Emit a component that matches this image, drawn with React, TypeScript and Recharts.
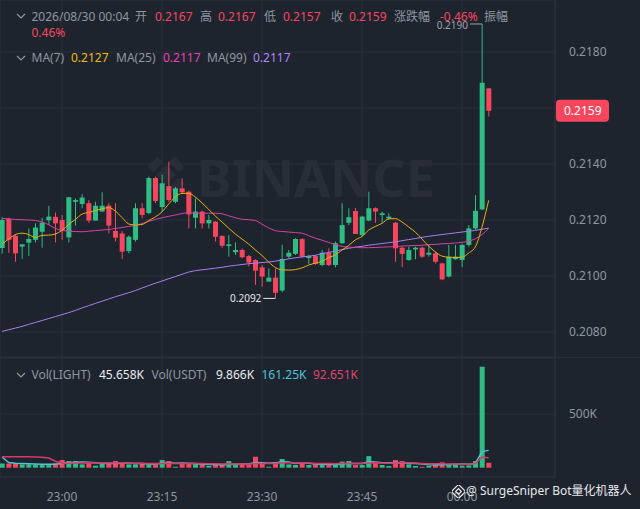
import React from 'react';
import { ComposedChart, Bar, Line, XAxis, YAxis, CartesianGrid, ReferenceLine, ReferenceDot, Cell } from 'recharts';

// 1m candles, 22:51 -> 00:04
const TICK_IDX = [9, 24, 39, 54, 69];
const TICK_LABELS = ['23:00', '23:15', '23:30', '23:45', '00:00'];
const PRICE_TICKS = [0.208, 0.21, 0.212, 0.214, 0.216, 0.218];

const OPEN = [
  0.2110, 0.21204, 0.21143, 0.21105, 0.21119, 0.21129, 0.21158, 0.21199, 0.21211, 0.2120,
  0.21138, 0.21265, 0.21257, 0.2126, 0.21198, 0.2123, 0.21251, 0.21161, 0.21152, 0.21089,
  0.21129, 0.21242, 0.21225, 0.2135, 0.21246, 0.21321, 0.21265, 0.21313, 0.21301, 0.21208,
  0.2123, 0.21188, 0.21194, 0.21143, 0.21107, 0.21085, 0.21093, 0.21071, 0.21057, 0.21031,
  0.2098, 0.20994, 0.20948, 0.21069, 0.21079, 0.21132, 0.21064, 0.21071, 0.21039, 0.21083,
  0.21039, 0.21117, 0.2119, 0.21232, 0.21146, 0.21198, 0.21242, 0.21218, 0.21205, 0.2119,
  0.21101, 0.21057, 0.21095, 0.21101, 0.21076, 0.21081, 0.21045, 0.20998, 0.2106, 0.21057,
  0.21111, 0.2117, 0.21238, 0.2167,
];
const HIGH = [
  0.2121, 0.21208, 0.2115, 0.21113, 0.2117, 0.21188, 0.21208, 0.2125, 0.21227, 0.21218,
  0.21283, 0.21277, 0.21292, 0.21271, 0.21265, 0.21299, 0.2126, 0.2126, 0.2116, 0.21145,
  0.2126, 0.2126, 0.21355, 0.21355, 0.21361, 0.21408, 0.21318, 0.21349, 0.21305, 0.21277,
  0.21233, 0.21218, 0.21196, 0.21145, 0.21146, 0.2112, 0.21098, 0.21075, 0.2106, 0.21039,
  0.21027, 0.21027, 0.21111, 0.21093, 0.21135, 0.21135, 0.21075, 0.21075, 0.21093, 0.21099,
  0.21123, 0.2126, 0.21242, 0.21243, 0.21215, 0.21301, 0.21245, 0.2123, 0.21224, 0.21193,
  0.21105, 0.21105, 0.21105, 0.21105, 0.21111, 0.21087, 0.21048, 0.21111, 0.21111, 0.21115,
  0.21182, 0.21289, 0.2190, 0.2167,
];
const LOW = [
  0.2108, 0.21082, 0.21051, 0.21061, 0.21071, 0.2112, 0.21101, 0.21182, 0.2112, 0.21129,
  0.2112, 0.2118, 0.21242, 0.2119, 0.21198, 0.2123, 0.21152, 0.21123, 0.21061, 0.21081,
  0.21123, 0.21206, 0.2122, 0.2126, 0.2123, 0.21265, 0.2126, 0.21295, 0.2117, 0.2117,
  0.2117, 0.2117, 0.21123, 0.21101, 0.21069, 0.21075, 0.21063, 0.21034, 0.20968, 0.20962,
  0.2098, 0.2092, 0.20942, 0.21063, 0.21075, 0.21065, 0.21043, 0.2104, 0.21035, 0.21035,
  0.21031, 0.21115, 0.21182, 0.2115, 0.21143, 0.21195, 0.2119, 0.2119, 0.21202, 0.21051,
  0.21031, 0.21055, 0.2106, 0.21065, 0.21069, 0.21045, 0.20985, 0.20995, 0.21058, 0.21031,
  0.21105, 0.21165, 0.21235, 0.2157,
];
const CLOSE = [
  0.2120, 0.21129, 0.21081, 0.21113, 0.21132, 0.21173, 0.2119, 0.21212, 0.21188, 0.21161,
  0.21281, 0.21271, 0.2128, 0.21198, 0.21251, 0.21251, 0.2118, 0.21137, 0.21087, 0.2114,
  0.21242, 0.21218, 0.2135, 0.21268, 0.21331, 0.21271, 0.21313, 0.21299, 0.2122, 0.2123,
  0.21188, 0.2120, 0.2114, 0.21108, 0.21113, 0.21093, 0.21067, 0.21048, 0.21019, 0.20998,
  0.20994, 0.2094, 0.21061, 0.21083, 0.21132, 0.21069, 0.21071, 0.21043, 0.21083, 0.21039,
  0.21117, 0.21182, 0.2121, 0.2115, 0.21212, 0.21242, 0.2123, 0.21224, 0.21212, 0.21099,
  0.21079, 0.21093, 0.21101, 0.21069, 0.21083, 0.21051, 0.20988, 0.21069, 0.21069, 0.21111,
  0.2117, 0.21233, 0.2169, 0.2159,
];
const MA7 = [
  0.21114, 0.21132, 0.21148, 0.21153, 0.21148, 0.21137, 0.21145, 0.21146, 0.2115, 0.21163,
  0.21184, 0.21202, 0.21221, 0.21227, 0.21234, 0.2124, 0.21244, 0.21232, 0.21209, 0.21186,
  0.21182, 0.21184, 0.21198, 0.21211, 0.21229, 0.21257, 0.21282, 0.21295, 0.21295, 0.21282,
  0.21261, 0.21238, 0.21214, 0.21193, 0.21171, 0.2115, 0.21132, 0.21114, 0.21093, 0.21073,
  0.2105, 0.2103, 0.21022, 0.21021, 0.21023, 0.21029, 0.21039, 0.21046, 0.21052, 0.21066,
  0.21075, 0.21093, 0.21109, 0.21129, 0.21141, 0.21164, 0.21177, 0.21188, 0.21204, 0.21205,
  0.21193, 0.21175, 0.21157, 0.21132, 0.21107, 0.21086, 0.21071, 0.21067, 0.21066, 0.21067,
  0.21082, 0.21104, 0.21175, 0.2127,
];
const MA25 = [
  0.21206, 0.21204, 0.21202, 0.21201, 0.2120, 0.21198, 0.21193, 0.21183, 0.2117, 0.21163,
  0.2116, 0.21159, 0.21158, 0.2116, 0.21162, 0.21164, 0.21166, 0.2117, 0.21173, 0.21177,
  0.21181, 0.21187, 0.21195, 0.21202, 0.21208, 0.21213, 0.21218, 0.21223, 0.21226, 0.21225,
  0.21224, 0.21224, 0.21224, 0.21222, 0.21215, 0.21208, 0.21203, 0.21201, 0.21198, 0.21185,
  0.21172, 0.21162, 0.21159, 0.21157, 0.21155, 0.21153, 0.21144, 0.21135, 0.21128, 0.2112,
  0.21112, 0.21106, 0.21103, 0.21102, 0.21101, 0.21101, 0.21102, 0.21103, 0.21104, 0.21105,
  0.21107, 0.21108, 0.21109, 0.2111, 0.21112, 0.21113, 0.21115, 0.21116, 0.21118, 0.2112,
  0.21125, 0.21133, 0.21148, 0.2117,
];
const MA99 = [
  0.20802, 0.20808, 0.20814, 0.2082, 0.20827, 0.20834, 0.20841, 0.20848, 0.20855, 0.20862,
  0.20869, 0.20877, 0.20886, 0.20894, 0.20902, 0.2091, 0.20918, 0.20926, 0.20933, 0.2094,
  0.20948, 0.20957, 0.20966, 0.20974, 0.20982, 0.2099, 0.20998, 0.21006, 0.21014, 0.21019,
  0.21022, 0.21025, 0.21028, 0.21031, 0.21035, 0.21038, 0.21041, 0.21044, 0.21046, 0.21048,
  0.2105, 0.21053, 0.21057, 0.21061, 0.21065, 0.21068, 0.21071, 0.21074, 0.2108, 0.21084,
  0.21089, 0.21094, 0.21099, 0.21103, 0.21106, 0.2111, 0.21113, 0.21116, 0.21119, 0.21122,
  0.21126, 0.2113, 0.21134, 0.21138, 0.21142, 0.21145, 0.21148, 0.21151, 0.21154, 0.21157,
  0.2116, 0.21163, 0.21167, 0.21171,
];

// volume in thousands of LIGHT
const VOLUME = [
  40, 40, 40, 31, 31, 31, 25, 25, 40, 71,
  62, 62, 31, 50, 19, 40, 40, 62, 40, 31,
  31, 40, 31, 31, 71, 62, 9, 40, 40, 40,
  25, 16, 25, 25, 62, 25, 31, 25, 102, 40,
  9, 50, 81, 31, 25, 50, 25, 40, 25, 25,
  25, 56, 62, 25, 25, 108, 50, 25, 16, 71,
  62, 31, 16, 9, 16, 40, 50, 31, 25, 19,
  22, 62, 940, 45.658,
];
const VOL_MA5 = [
  100, 48, 42, 40, 37, 35, 33, 31, 33, 40,
  45, 50, 52, 50, 45, 42, 38, 40, 42, 43,
  40, 38, 35, 34, 42, 47, 42, 43, 42, 38,
  33, 30, 29, 26, 33, 31, 34, 34, 49, 45,
  41, 45, 56, 52, 39, 47, 42, 34, 33, 33,
  28, 34, 39, 39, 39, 55, 54, 47, 45, 48,
  45, 41, 39, 34, 27, 24, 28, 29, 32, 34,
  32, 40, 150, 161.25,
];
const VOL_MA10 = [
  103, 103, 102, 102, 101, 100, 98, 90, 60, 42,
  41, 43, 44, 45, 44, 44, 43, 44, 43, 42,
  41, 41, 40, 38, 40, 42, 40, 40, 40, 40,
  38, 36, 36, 34, 36, 35, 34, 32, 38, 40,
  38, 40, 45, 45, 44, 46, 44, 40, 38, 38,
  37, 38, 40, 40, 38, 44, 45, 44, 42, 44,
  46, 46, 44, 40, 37, 36, 36, 35, 34, 33,
  33, 38, 97, 92.651,
];

const BG = '#1E242E';
const GRID = '#2A303A';
const UP = '#2EBD85';
const DOWN = '#F6465D';
const LABEL = '#8E96A1';
const WATERMARK = '#282E38';
const FONT = '"Noto Sans", "Noto Sans CJK SC", sans-serif';

const data = OPEN.map((o, i) => ({
  idx: i,
  open: o,
  high: HIGH[i],
  low: LOW[i],
  close: CLOSE[i],
  range: [LOW[i], HIGH[i]],
  ma7: MA7[i],
  ma25: MA25[i],
  ma99: MA99[i],
  vol: VOLUME[i],
  vma5: VOL_MA5[i],
  vma10: VOL_MA10[i],
}));

const X_DOMAIN: [number, number] = [-0.3, 82.95];

const Candle = (props: any) => {
  const { x, y, width, height, payload } = props;
  const { open, close, high, low } = payload;
  const color = close >= open ? UP : DOWN;
  const top = Math.min(y, y + height);
  const h = Math.abs(height);
  const toY = (v: number) => (high === low ? top : top + ((high - v) / (high - low)) * h);
  const bTop = toY(Math.max(open, close));
  const bBot = toY(Math.min(open, close));
  const cx = x + width / 2;
  return (
    <g>
      <line x1={cx} x2={cx} y1={top} y2={top + h} stroke={color} strokeWidth={1} />
      <rect x={x} y={bTop} width={width} height={Math.max(1, bBot - bTop)} fill={color} />
    </g>
  );
};

const PriceTag = (props: any) => {
  const vb = props.viewBox || {};
  const x = vb.x + vb.width + 1;
  const y = vb.y;
  return (
    <g>
      <rect x={x} y={y - 11} width={53} height={22} rx={4} fill={DOWN} />
      <text x={x + 8} y={y} dominantBaseline="central" fill="#FFFFFF" fontSize={12}>
        {props.text}
      </text>
    </g>
  );
};

const ExtremeLabel = (props: any) => {
  const vb = props.viewBox || {};
  const cx = vb.x;
  const cy = vb.y;
  return (
    <g>
      <line x1={cx - 12} x2={cx} y1={cy} y2={cy} stroke={props.color} strokeWidth={1} />
      <text x={cx - 14} y={cy + (props.dy || 0)} textAnchor="end" dominantBaseline="central" fill={props.color} fontSize={10}>
        {props.text}
      </text>
    </g>
  );
};

const Chevron = ({ top }: { top: number }) => (
  <svg style={{ position: 'absolute', left: 16, top }} width={10} height={6}>
    <polyline points="1,1 5,5 9,1" fill="none" stroke={LABEL} strokeWidth={1.2} />
  </svg>
);

const T = ({ x, y, color, children, size = 12 }: any) => (
  <div
    style={{
      position: 'absolute', left: x, top: y - 9, lineHeight: '18px', fontSize: size,
      color, whiteSpace: 'nowrap',
    }}
  >
    {children}
  </div>
);

const App = () => {
  return (
    <div style={{ position: 'relative', width: 640, height: 509, background: BG, overflow: 'hidden', fontFamily: FONT }}>
      <style>{'body{margin:0;background:' + BG + '}'}</style>

      {/* watermark */}
      <svg style={{ position: 'absolute', left: 0, top: 0 }} width={640} height={360}>
        <g fill={WATERMARK} transform="translate(166 175) rotate(45)">
          <rect x={-7} y={-7} width={14} height={14} />
          <rect x={-7} y={-19} width={14} height={8} />
          <rect x={-7} y={11} width={14} height={8} />
          <rect x={-19} y={-7} width={8} height={14} />
          <rect x={11} y={-7} width={8} height={14} />
        </g>
        <text x={197} y={197} fontSize={52} fontWeight={700} fill={WATERMARK} fontFamily={FONT}>
          BINANCE
        </text>
      </svg>

      {/* price pane */}
      <div style={{ position: 'absolute', left: 0, top: 0 }}>
        <ComposedChart width={640} height={357} data={data} margin={{ top: 0, right: 0, bottom: 0, left: 0 }}>
          <CartesianGrid stroke={GRID} />
          <XAxis dataKey="idx" type="number" domain={X_DOMAIN} ticks={TICK_IDX} allowDataOverflow hide />
          <YAxis
            orientation="right"
            width={85}
            domain={[0.207107, 0.219857]}
            ticks={PRICE_TICKS}
            allowDataOverflow
            axisLine={{ stroke: GRID }}
            tickLine={false}
            tickMargin={8}
            tick={{ fill: LABEL, fontSize: 12 }}
            tickFormatter={(v: number) => (Math.abs(v - 0.216) < 1e-9 ? '' : v.toFixed(4))}
          />
          <Line dataKey="ma99" stroke="#A77DF0" strokeWidth={1} dot={false} activeDot={false} isAnimationActive={false} type="monotone" />
          <Line dataKey="ma25" stroke="#D640A8" strokeWidth={1} dot={false} activeDot={false} isAnimationActive={false} type="monotone" />
          <Line dataKey="ma7" stroke="#E8B00C" strokeWidth={1} dot={false} activeDot={false} isAnimationActive={false} type="monotone" />
          <Bar dataKey="range" barSize={5} shape={(p: any) => <Candle {...p} />} activeBar={false} isAnimationActive={false} />
          <ReferenceDot x={72} y={0.219} r={0} fill="none" stroke="none" label={<ExtremeLabel text="0.2190" color="#9AA1AB" dy={1.5} />} />
          <ReferenceDot x={41} y={0.2092} r={0} fill="none" stroke="none" label={<ExtremeLabel text="0.2092" color="#E6E8EB" />} />
          <ReferenceLine y={0.2159} stroke="none" label={<PriceTag text="0.2159" />} />
        </ComposedChart>
      </div>

      <div style={{ position: 'absolute', left: 0, top: 357, width: 640, height: 1, background: GRID }} />

      {/* volume pane */}
      <div style={{ position: 'absolute', left: 0, top: 358 }}>
        <ComposedChart width={640} height={151} data={data} margin={{ top: 0, right: 0, bottom: 0, left: 0 }}>
          <CartesianGrid stroke={GRID} />
          <XAxis
            dataKey="idx"
            type="number"
            domain={X_DOMAIN}
            ticks={TICK_IDX}
            allowDataOverflow
            height={32}
            axisLine={{ stroke: GRID }}
            tickLine={false}
            tickMargin={9}
            tick={{ fill: LABEL, fontSize: 12 }}
            tickFormatter={(v: number) => TICK_LABELS[TICK_IDX.indexOf(v)] ?? ''}
          />
          <YAxis
            orientation="right"
            width={85}
            domain={[-86.6, 1021.4]}
            ticks={[500]}
            allowDataOverflow
            axisLine={{ stroke: GRID }}
            tickLine={false}
            tickMargin={8}
            tick={{ fill: LABEL, fontSize: 12 }}
            tickFormatter={(v: number) => v + 'K'}
          />
          <Bar dataKey="vol" barSize={5} activeBar={false} isAnimationActive={false}>
            {data.map((d) => (
              <Cell key={d.idx} fill={d.close >= d.open ? UP : DOWN} />
            ))}
          </Bar>
          <Line dataKey="vma5" stroke="#53C1D6" strokeWidth={1.5} dot={false} activeDot={false} isAnimationActive={false} type="linear" />
          <Line dataKey="vma10" stroke="#D9386A" strokeWidth={1.5} dot={false} activeDot={false} isAnimationActive={false} type="linear" />
        </ComposedChart>
      </div>

      {/* header: ohlc */}
      <Chevron top={13} />
      <T x={31.5} y={16.5} color={LABEL}>2026/08/30 00:04</T>
      <T x={135} y={16.5} color={LABEL}>开</T>
      <T x={155} y={16.5} color={DOWN}>0.2167</T>
      <T x={200} y={16.5} color={LABEL}>高</T>
      <T x={218} y={16.5} color={DOWN}>0.2167</T>
      <T x={264} y={16.5} color={LABEL}>低</T>
      <T x={283} y={16.5} color={DOWN}>0.2157</T>
      <T x={331} y={16.5} color={LABEL}>收</T>
      <T x={349} y={16.5} color={DOWN}>0.2159</T>
      <T x={394} y={16.5} color={LABEL}>涨跌幅</T>
      <T x={440} y={16.5} color={DOWN}>-0.46%</T>
      <T x={484} y={16.5} color={LABEL}>振幅</T>
      <T x={31.5} y={33} color={DOWN}>0.46%</T>

      {/* header: moving averages */}
      <Chevron top={55} />
      <T x={31.5} y={58} color={LABEL}>MA(7)</T>
      <T x={71} y={58} color="#F0B90B">0.2127</T>
      <T x={116} y={58} color={LABEL}>MA(25)</T>
      <T x={163} y={58} color="#EB40B5">0.2117</T>
      <T x={207} y={58} color={LABEL}>MA(99)</T>
      <T x={253} y={58} color="#B385F8">0.2117</T>

      {/* header: volume */}
      <Chevron top={372} />
      <T x={31.5} y={375} color={LABEL}>Vol(LIGHT)</T>
      <T x={99} y={375} color="#EAECEF">45.658K</T>
      <T x={151.5} y={375} color={LABEL}>Vol(USDT)</T>
      <T x={216} y={375} color="#EAECEF">9.866K</T>
      <T x={261.5} y={375} color="#4FC3D5">161.25K</T>
      <T x={313} y={375} color="#E0436D">92.651K</T>

      {/* credit */}
      <svg style={{ position: 'absolute', left: 452, top: 485 }} width={13} height={13}>
        <g fill="none" stroke="#E6E8EB" strokeWidth={1.2} transform="translate(6.5 6.5) rotate(45)">
          <rect x={-2} y={-2} width={4} height={4} />
          <rect x={-5} y={-5} width={10} height={10} />
        </g>
      </svg>
      <T x={466} y={491} color="#E6E8EB">@ SurgeSniper Bot量化机器人</T>
    </div>
  );
};

export default App;
